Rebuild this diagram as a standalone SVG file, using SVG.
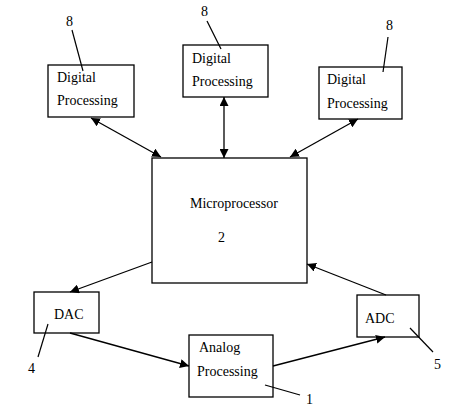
<svg xmlns="http://www.w3.org/2000/svg" width="474" height="417" viewBox="0 0 474 417">
<defs>
<marker id="ah" viewBox="0 0 10 10" refX="10" refY="5" markerWidth="9" markerHeight="9" markerUnits="userSpaceOnUse" orient="auto-start-reverse">
<path d="M0,0 L10,5 L0,10 z" fill="#000"/>
</marker>
<style>
.box{fill:#fff;stroke:#000;stroke-width:1.3}
.t{font-family:"Liberation Serif","Times New Roman",serif;font-size:14px;fill:#000}
.ln{stroke:#000;stroke-width:1.2;fill:none}
.ar{stroke:#000;stroke-width:1.3;fill:none}
</style>
</defs>
<rect width="474" height="417" fill="#fff"/>
<g id="dp-left">
<rect class="box" x="48" y="65" width="86" height="52"/>
<text class="t" x="57" y="82">Digital</text>
<text class="t" x="57" y="105">Processing</text>
<text class="t" x="66" y="26">8</text>
<line class="ln" x1="72" y1="30" x2="83" y2="71"/>
</g>
<g id="dp-mid">
<rect class="box" x="183" y="45" width="85" height="52"/>
<text class="t" x="192" y="63">Digital</text>
<text class="t" x="192" y="86">Processing</text>
<text class="t" x="201" y="16">8</text>
<line class="ln" x1="207" y1="21" x2="221" y2="49"/>
</g>
<g id="dp-right">
<rect class="box" x="319" y="67" width="83" height="52"/>
<text class="t" x="327" y="84">Digital</text>
<text class="t" x="327" y="108">Processing</text>
<text class="t" x="386" y="30">8</text>
<line class="ln" x1="388" y1="37" x2="383" y2="72"/>
</g>
<g id="microprocessor">
<rect class="box" x="152" y="158" width="155" height="125"/>
<text class="t" x="190" y="208">Microprocessor</text>
<text class="t" x="218" y="242">2</text>
</g>
<g id="dac">
<rect class="box" x="34" y="292" width="65" height="41"/>
<text class="t" x="54" y="319">DAC</text>
<text class="t" x="28" y="373">4</text>
<line class="ln" x1="48" y1="324" x2="38" y2="357"/>
</g>
<g id="analog">
<rect class="box" x="189" y="335" width="84" height="62"/>
<text class="t" x="199" y="352">Analog</text>
<text class="t" x="197" y="376">Processing</text>
<text class="t" x="306" y="404">1</text>
<line class="ln" x1="265" y1="385" x2="300" y2="395"/>
</g>
<g id="adc">
<rect class="box" x="357" y="295" width="62" height="42"/>
<text class="t" x="365" y="323">ADC</text>
<text class="t" x="434" y="369">5</text>
<line class="ln" x1="410" y1="328" x2="433" y2="352"/>
</g>
<g id="connectors">
<line class="ar" x1="91" y1="118" x2="161" y2="157" marker-start="url(#ah)" marker-end="url(#ah)"/>
<line class="ar" x1="224" y1="97" x2="224" y2="158" marker-start="url(#ah)" marker-end="url(#ah)"/>
<line class="ar" x1="358" y1="119" x2="290" y2="157" marker-start="url(#ah)" marker-end="url(#ah)"/>
<line class="ar" x1="152" y1="262" x2="70" y2="292" marker-end="url(#ah)"/>
<line class="ar" x1="70" y1="333" x2="189" y2="366" marker-end="url(#ah)"/>
<line class="ar" x1="273" y1="366" x2="385" y2="337" marker-end="url(#ah)"/>
<line class="ar" x1="386" y1="295" x2="307" y2="264" marker-end="url(#ah)"/>
</g>
</svg>
